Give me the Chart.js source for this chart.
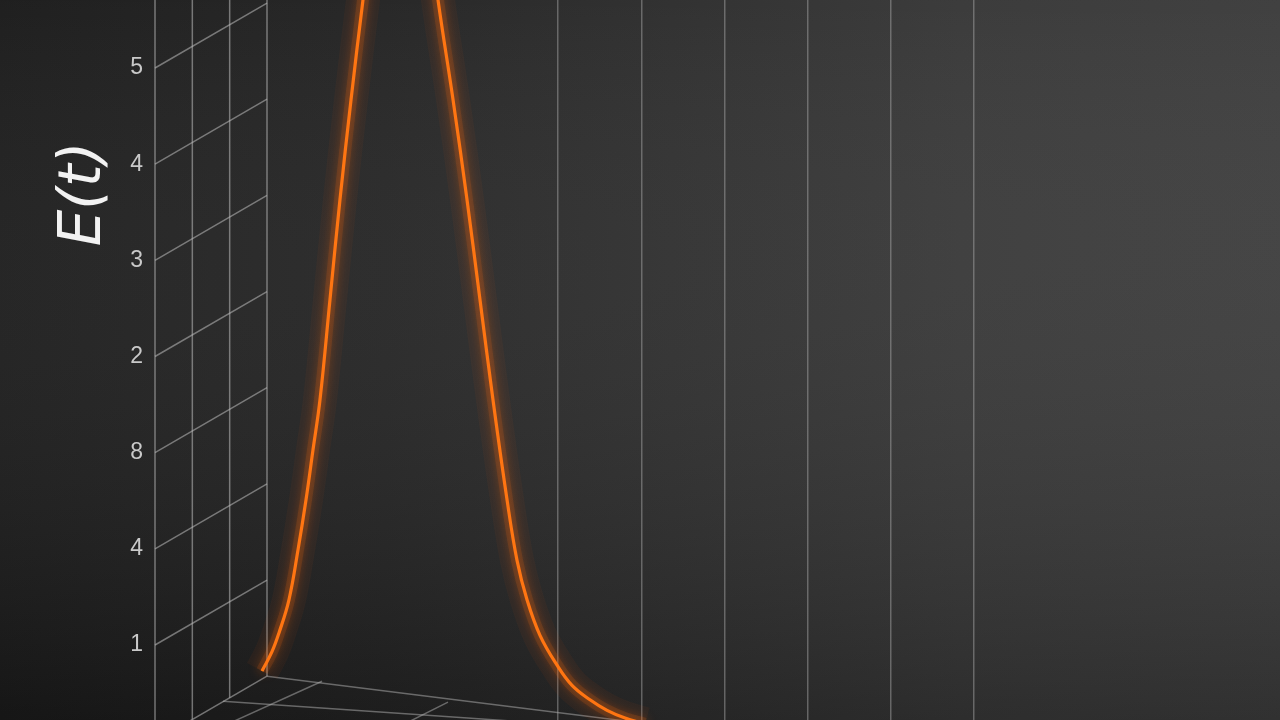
<!DOCTYPE html>
<html>
<head>
<meta charset="utf-8">
<title>E(t)</title>
<script src="https://cdn.jsdelivr.net/npm/chart.js@4.4.1/dist/chart.umd.min.js"></script>
<style>
  html, body { margin: 0; padding: 0; background: #262626; }
  #wrap { width: 1280px; height: 720px; }
</style>
</head>
<body>
<div id="wrap"><canvas id="pulse" width="1280" height="720"></canvas></div>
<script>
// pulse (t in back-wall grid units, E in tick units)
const tValues = [-0.06, 0.060, 0.144, 0.264, 0.373, 0.469, 0.553, 0.637, 0.757, 0.877, 1.010, 1.154,
                 1.310, 1.478, 1.623, 1.767, 1.899,
                 2.055, 2.236, 2.404, 2.560, 2.716, 2.885, 3.005, 3.125, 3.281, 3.486, 3.666,
                 3.882, 4.087, 4.303, 4.543];
const eValues = [0.73, 0.93, 1.125, 1.47, 1.99, 2.51, 3.03, 3.55, 4.59, 5.63, 6.67, 7.71,
                 8.75, 9.79, 10.6, 9.79, 8.75,
                 7.71, 6.67, 5.63, 4.59, 3.55, 2.51, 1.88, 1.47, 1.10, 0.79, 0.58,
                 0.43, 0.32, 0.24, 0.18];

const yTickValues = [1, 2, 3, 4, 5, 6, 7];
const yTickLabels = ['1', '4', '8', '2', '3', '4', '5'];
const xGridTicks = [3.5, 4.5, 5.5, 6.5, 7.5, 8.5];
const axisTitle = 'E(t)';

const points = tValues.map((t, i) => ({ x: t, y: eValues[i] }));

function seg(ctx, x1, y1, x2, y2) {
    ctx.beginPath();
    ctx.moveTo(x1, y1);
    ctx.lineTo(x2, y2);
    ctx.stroke();
}

// background, left wall and floor of the "room"
const roomPlugin = {
    id: 'room',
    beforeDraw(chart) {
        const { ctx, width, height } = chart;
        ctx.save();
        const g = ctx.createLinearGradient(0, 0, width, 0);
        g.addColorStop(0, '#1b1b1b');
        g.addColorStop(0.3, '#242424');
        g.addColorStop(0.75, '#383838');
        g.addColorStop(1, '#3d3d3d');
        ctx.fillStyle = g;
        ctx.fillRect(0, 0, width, height);
        const v = ctx.createLinearGradient(0, 0, 0, height);
        v.addColorStop(0, 'rgba(255,255,255,0.02)');
        v.addColorStop(1, 'rgba(0,0,0,0.2)');
        ctx.fillStyle = v;
        ctx.fillRect(0, 0, width, height);
        ctx.restore();
    },
    beforeDatasetsDraw(chart) {
        const { ctx, chartArea, scales: { x, y } } = chart;
        const left = chartArea.left;
        const corner = x.getPixelForValue(0);
        const slope = 0.58;
        const rise = (corner - left) * slope;
        const baseY = y.getPixelForValue(0);

        ctx.save();
        ctx.strokeStyle = 'rgba(190,190,190,0.55)';
        ctx.lineWidth = 1.5;

        // wall verticals stop at the wall's bottom edge
        for (let i = 0; i <= 3; i++) {
            const px = left + (corner - left) * i / 3;
            seg(ctx, px, 0, px, baseY - (px - left) * slope);
        }
        // wall diagonals, one per y tick
        for (let v = 0; v <= 8; v++) {
            const py = y.getPixelForValue(v);
            seg(ctx, left, py, corner, py - rise);
        }

        // floor
        const cy = baseY - rise;
        ctx.strokeStyle = 'rgba(180,180,180,0.5)';
        seg(ctx, corner, cy, corner + 400, cy + 50);
        seg(ctx, corner - 44, cy + 25, corner + 320, cy + 50);
        seg(ctx, corner + 55, cy + 5, corner - 44, cy + 50);
        seg(ctx, corner + 181, cy + 26, corner + 133, cy + 50);
        ctx.restore();
    },
    beforeDatasetDraw(chart, args) {
        if (args.index === 2) {
            chart.ctx.save();
            chart.ctx.shadowColor = 'rgba(255,100,0,0.95)';
            chart.ctx.shadowBlur = 12;
        }
    },
    afterDatasetDraw(chart, args) {
        if (args.index === 2) chart.ctx.restore();
    },
    afterDraw(chart) {
        const { ctx } = chart;
        ctx.save();
        ctx.translate(100, 194);
        ctx.rotate(-Math.PI / 2);
        ctx.fillStyle = '#f2f2f2';
        ctx.font = 'italic 58px "DejaVu Sans", sans-serif';
        ctx.textAlign = 'center';
        ctx.textBaseline = 'alphabetic';
        ctx.fillText(axisTitle, 0, 0);
        ctx.restore();
    }
};

const lineBase = {
    data: points,
    pointRadius: 0,
    fill: false,
    tension: 0.4
};

new Chart(document.getElementById('pulse'), {
    type: 'line',
    data: {
        datasets: [
            Object.assign({}, lineBase, { borderWidth: 34, borderColor: 'rgba(255,96,10,0.05)' }),
            Object.assign({}, lineBase, { borderWidth: 12, borderColor: 'rgba(255,110,20,0.14)' }),
            Object.assign({}, lineBase, { borderWidth: 3.2, borderColor: '#ff7812' }),
            Object.assign({}, lineBase, { borderWidth: 1.2, borderColor: '#ffa850' })
        ]
    },
    options: {
        responsive: false,
        animation: false,
        layout: { padding: 0 },
        plugins: {
            legend: { display: false },
            tooltip: { enabled: false }
        },
        scales: {
            x: {
                type: 'linear',
                min: -1.346,
                max: 12.175,
                afterBuildTicks: (scale) => {
                    scale.ticks = xGridTicks.map(v => ({ value: v }));
                },
                afterFit: (scale) => {
                    scale.height = 0;
                    scale.paddingLeft = 0;
                    scale.paddingRight = 0;
                },
                ticks: { display: false },
                border: { display: false },
                grid: {
                    drawTicks: false,
                    color: 'rgba(175,175,175,0.45)',
                    lineWidth: 1.5
                }
            },
            y: {
                type: 'linear',
                min: 0.22,
                max: 7.707,
                afterBuildTicks: (scale) => {
                    scale.ticks = yTickValues.map(v => ({ value: v }));
                },
                afterFit: (scale) => {
                    scale.width = 155;
                    scale.paddingTop = 0;
                    scale.paddingBottom = 0;
                },
                border: { display: false },
                grid: { display: false, drawTicks: false },
                ticks: {
                    padding: 12,
                    color: '#c9c9c9',
                    font: { family: '"Liberation Sans", Arial, sans-serif', size: 23 },
                    callback: (value) => {
                        const i = yTickValues.indexOf(value);
                        return i >= 0 ? yTickLabels[i] : '';
                    }
                }
            }
        }
    },
    plugins: [roomPlugin]
});
</script>
</body>
</html>
